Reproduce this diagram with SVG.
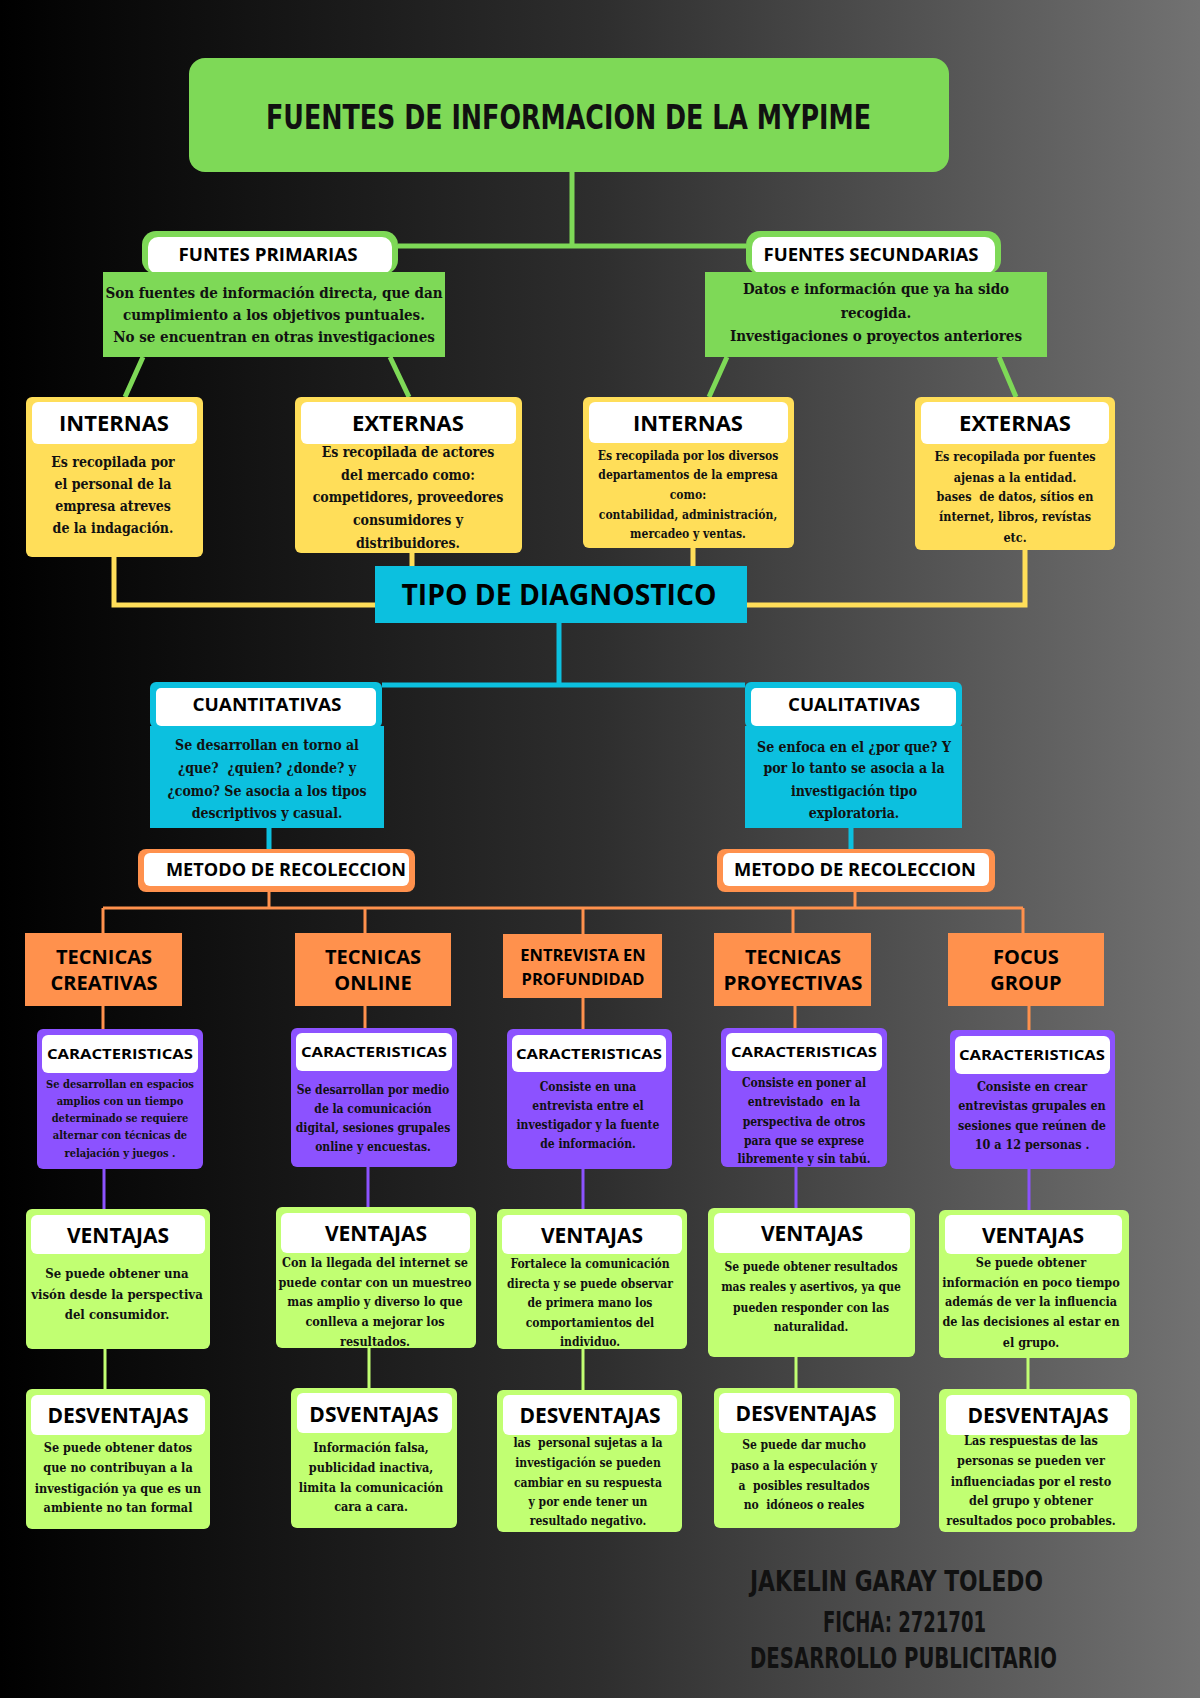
<svg xmlns="http://www.w3.org/2000/svg" width="1200" height="1698" viewBox="0 0 1200 1698">
<defs>
<linearGradient id="bg" x1="0" y1="0" x2="1" y2="0">
<stop offset="0" stop-color="#000000"/>
<stop offset="0.5" stop-color="#2e2e2e"/>
<stop offset="1" stop-color="#727272"/>
</linearGradient>
</defs>
<style>
.lbl{font-family:"Open Sans","Noto Sans",sans-serif;font-weight:700;fill:#000;text-anchor:middle}
.ttl{font-family:"DejaVu Sans Condensed","DejaVu Sans",sans-serif;font-weight:700;fill:#111}
.d{font-family:"DejaVu Serif Condensed","DejaVu Serif",serif;font-weight:700;fill:#111;text-anchor:middle;white-space:pre}
.wh{fill:#ffffff}
.gr{fill:#7ed957}.ye{fill:#ffde59}.cy{fill:#0cc0df}.or{fill:#ff914d}.pu{fill:#8c52ff}.lg{fill:#c1ff72}
</style>
<rect x="0" y="0" width="1200" height="1698" fill="url(#bg)"/>

<g id="connectors" fill="none">
<path d="M572 172 V246 M398 246 H746" stroke="#7ed957" stroke-width="5"/>
<path d="M143 357 L125 397 M390 357 L409 397 M727 357 L709 397 M999 357 L1016 397" stroke="#7ed957" stroke-width="5"/>
<path d="M114 557 V605 H375 M412 553 V566 M693 548 V566 M1025 550 V605 H747" stroke="#ffde59" stroke-width="5"/>
<path d="M559 623 V685 M382 685 H745 M269 828 V849 M851 828 V849" stroke="#0cc0df" stroke-width="5"/>
<path d="M269 892 V908 M855 892 V908 M103 908 H1023 M103 908 V933 M365 908 V933 M583 908 V934 M793 908 V933 M1023 908 V933" stroke="#ff914d" stroke-width="3"/>
<path d="M103 1006 V1029 M365 1006 V1028 M583 998 V1029 M795 1005 V1028 M1029 1006 V1030" stroke="#ff914d" stroke-width="3"/>
<path d="M104 1169 V1209 M368 1167 V1207 M583 1169 V1209 M796 1167 V1208 M1029 1169 V1210" stroke="#8c52ff" stroke-width="3"/>
<path d="M105 1349 V1389 M369 1348 V1388 M583 1349 V1390 M796 1357 V1388 M1028 1358 V1389" stroke="#c1ff72" stroke-width="3"/>
</g>

<g id="title">
<rect class="gr" x="189" y="58" width="760" height="114" rx="16"/>
<text class="ttl" x="266" y="129" font-size="33" textLength="605" lengthAdjust="spacingAndGlyphs">FUENTES DE INFORMACION DE LA MYPIME</text>
</g>

<g id="fuentes-primarias">
<rect class="gr" x="142" y="231" width="256" height="43" rx="14"/>
<rect class="wh" x="148" y="237" width="244" height="37" rx="10"/>
<rect class="gr" x="103" y="272" width="342" height="85"/>
<text class="lbl" x="268" y="261" font-size="17" textLength="179" lengthAdjust="spacingAndGlyphs">FUNTES PRIMARIAS</text>
<text class="d" font-size="15"><tspan x="274" y="298">Son fuentes de información directa, que dan</tspan><tspan x="274" y="320">cumplimiento a los objetivos puntuales.</tspan><tspan x="274" y="342">No se encuentran en otras investigaciones</tspan></text>
</g>

<g id="fuentes-secundarias">
<rect class="gr" x="746" y="231" width="255" height="43" rx="14"/>
<rect class="wh" x="752" y="237" width="243" height="37" rx="10"/>
<rect class="gr" x="705" y="272" width="342" height="85"/>
<text class="lbl" x="871" y="261" font-size="17" textLength="215" lengthAdjust="spacingAndGlyphs">FUENTES SECUNDARIAS</text>
<text class="d" font-size="15"><tspan x="876" y="294">Datos e información que ya ha sido</tspan><tspan x="876" y="318">recogida.</tspan><tspan x="876" y="341">Investigaciones o proyectos anteriores</tspan></text>
</g>

<g id="internas-1">
<rect class="ye" x="26" y="397" width="177" height="160" rx="6"/>
<rect class="wh" x="32" y="402" width="165" height="42" rx="6"/>
<text class="lbl" x="114" y="431" font-size="22">INTERNAS</text>
<text class="d" font-size="14"><tspan x="113" y="467">Es recopilada por</tspan><tspan x="113" y="489">el personal de la</tspan><tspan x="113" y="511">empresa atreves</tspan><tspan x="113" y="533">de la indagación.</tspan></text>
</g>

<g id="externas-1">
<rect class="ye" x="295" y="397" width="227" height="156" rx="6"/>
<rect class="wh" x="301" y="402" width="215" height="42" rx="6"/>
<text class="lbl" x="408" y="431" font-size="22">EXTERNAS</text>
<text class="d" font-size="14"><tspan x="408" y="457">Es recopilada de actores</tspan><tspan x="408" y="480">del mercado como:</tspan><tspan x="408" y="502">competidores, proveedores</tspan><tspan x="408" y="525">consumidores y</tspan><tspan x="408" y="548">distribuidores.</tspan></text>
</g>

<g id="internas-2">
<rect class="ye" x="583" y="397" width="211" height="151" rx="6"/>
<rect class="wh" x="589" y="402" width="199" height="41" rx="6"/>
<text class="lbl" x="688" y="431" font-size="22">INTERNAS</text>
<text class="d" font-size="12"><tspan x="688" y="460">Es recopilada por los diversos</tspan><tspan x="688" y="479">departamentos de la empresa</tspan><tspan x="688" y="499">como:</tspan><tspan x="688" y="519">contabilidad, administración,</tspan><tspan x="688" y="538">mercadeo y ventas.</tspan></text>
</g>

<g id="externas-2">
<rect class="ye" x="915" y="397" width="200" height="153" rx="6"/>
<rect class="wh" x="921" y="402" width="188" height="42" rx="6"/>
<text class="lbl" x="1015" y="431" font-size="22">EXTERNAS</text>
<text class="d" font-size="12.5"><tspan x="1015" y="461">Es recopilada por fuentes</tspan><tspan x="1015" y="482">ajenas a la entidad.</tspan><tspan x="1015" y="501">bases  de datos, sítios en</tspan><tspan x="1015" y="521">ínternet, libros, revístas</tspan><tspan x="1015" y="542">etc.</tspan></text>
</g>

<g id="tipo-diagnostico">
<rect class="cy" x="375" y="566" width="372" height="57"/>
<text class="lbl" x="559" y="605" font-size="28" textLength="315" lengthAdjust="spacingAndGlyphs">TIPO DE DIAGNOSTICO</text>
</g>

<g id="cuantitativas">
<rect class="cy" x="150" y="682" width="232" height="46" rx="6"/>
<rect class="wh" x="156" y="688" width="220" height="38" rx="5"/>
<rect class="cy" x="150" y="726" width="234" height="102"/>
<text class="lbl" x="267" y="711" font-size="17" textLength="149" lengthAdjust="spacingAndGlyphs">CUANTITATIVAS</text>
<text class="d" font-size="14"><tspan x="267" y="750">Se desarrollan en torno al</tspan><tspan x="267" y="773">¿que?  ¿quien? ¿donde? y</tspan><tspan x="267" y="796">¿como? Se asocia a los tipos</tspan><tspan x="267" y="818">descriptivos y casual.</tspan></text>
</g>

<g id="cualitativas">
<rect class="cy" x="745" y="682" width="217" height="46" rx="6"/>
<rect class="wh" x="751" y="688" width="205" height="38" rx="5"/>
<rect class="cy" x="745" y="726" width="217" height="102"/>
<text class="lbl" x="854" y="711" font-size="17" textLength="132" lengthAdjust="spacingAndGlyphs">CUALITATIVAS</text>
<text class="d" font-size="14"><tspan x="854" y="752">Se enfoca en el ¿por que? Y</tspan><tspan x="854" y="773">por lo tanto se asocia a la</tspan><tspan x="854" y="796">investigación tipo</tspan><tspan x="854" y="818">exploratoria.</tspan></text>
</g>

<g id="metodo-1">
<rect class="or" x="138" y="849" width="277" height="43" rx="8"/>
<rect class="wh" x="144" y="853" width="265" height="33" rx="6"/>
<text class="lbl" x="286" y="876" font-size="17" textLength="240" lengthAdjust="spacingAndGlyphs">METODO DE RECOLECCION</text>
</g>

<g id="metodo-2">
<rect class="or" x="717" y="849" width="278" height="43" rx="8"/>
<rect class="wh" x="723" y="853" width="266" height="33" rx="6"/>
<text class="lbl" x="855" y="876" font-size="17" textLength="242" lengthAdjust="spacingAndGlyphs">METODO DE RECOLECCION</text>
</g>

<g id="tecnicas-creativas">
<rect class="or" x="25" y="933" width="157" height="73"/>
<text class="lbl" font-size="20"><tspan x="104" y="964">TECNICAS</tspan><tspan x="104" y="990">CREATIVAS</tspan></text>
</g>
<g id="tecnicas-online">
<rect class="or" x="295" y="933" width="156" height="73"/>
<text class="lbl" font-size="20"><tspan x="373" y="964">TECNICAS</tspan><tspan x="373" y="990">ONLINE</tspan></text>
</g>
<g id="entrevista-profundidad">
<rect class="or" x="503" y="934" width="159" height="64"/>
<text class="lbl" font-size="16.5"><tspan x="583" y="961">ENTREVISTA EN</tspan><tspan x="583" y="985">PROFUNDIDAD</tspan></text>
</g>
<g id="tecnicas-proyectivas">
<rect class="or" x="714" y="933" width="157" height="73"/>
<text class="lbl" font-size="20"><tspan x="793" y="964">TECNICAS</tspan><tspan x="793" y="990" textLength="139" lengthAdjust="spacingAndGlyphs">PROYECTIVAS</tspan></text>
</g>
<g id="focus-group">
<rect class="or" x="948" y="933" width="156" height="73"/>
<text class="lbl" font-size="20"><tspan x="1026" y="964">FOCUS</tspan><tspan x="1026" y="990">GROUP</tspan></text>
</g>

<g id="caracteristicas-1">
<rect class="pu" x="37" y="1029" width="166" height="140" rx="6"/>
<rect class="wh" x="42" y="1035" width="156" height="38" rx="6"/>
<text class="lbl" x="120" y="1059" font-size="15" textLength="146" lengthAdjust="spacingAndGlyphs">CARACTERISTICAS</text>
<text class="d" font-size="11"><tspan x="120" y="1088">Se desarrollan en espacios</tspan><tspan x="120" y="1105">amplios con un tiempo</tspan><tspan x="120" y="1122">determinado se requiere</tspan><tspan x="120" y="1139">alternar con técnicas de</tspan><tspan x="120" y="1157">relajación y juegos .</tspan></text>
</g>
<g id="caracteristicas-2">
<rect class="pu" x="291" y="1028" width="166" height="139" rx="6"/>
<rect class="wh" x="296" y="1033" width="156" height="38" rx="6"/>
<text class="lbl" x="374" y="1057" font-size="15" textLength="146" lengthAdjust="spacingAndGlyphs">CARACTERISTICAS</text>
<text class="d" font-size="12"><tspan x="373" y="1094">Se desarrollan por medio</tspan><tspan x="373" y="1113">de la comunicación</tspan><tspan x="373" y="1132">digital, sesiones grupales</tspan><tspan x="373" y="1151">online y encuestas.</tspan></text>
</g>
<g id="caracteristicas-3">
<rect class="pu" x="507" y="1029" width="165" height="140" rx="6"/>
<rect class="wh" x="512" y="1035" width="154" height="37" rx="6"/>
<text class="lbl" x="589" y="1059" font-size="15" textLength="146" lengthAdjust="spacingAndGlyphs">CARACTERISTICAS</text>
<text class="d" font-size="12"><tspan x="588" y="1091">Consiste en una</tspan><tspan x="588" y="1110">entrevista entre el</tspan><tspan x="588" y="1129">investigador y la fuente</tspan><tspan x="588" y="1148">de información.</tspan></text>
</g>
<g id="caracteristicas-4">
<rect class="pu" x="721" y="1028" width="166" height="139" rx="6"/>
<rect class="wh" x="726" y="1033" width="156" height="38" rx="6"/>
<text class="lbl" x="804" y="1057" font-size="15" textLength="146" lengthAdjust="spacingAndGlyphs">CARACTERISTICAS</text>
<text class="d" font-size="12"><tspan x="804" y="1087">Consiste en poner al</tspan><tspan x="804" y="1106">entrevistado  en la</tspan><tspan x="804" y="1126">perspectiva de otros</tspan><tspan x="804" y="1145">para que se exprese</tspan><tspan x="804" y="1163">libremente y sin tabú.</tspan></text>
</g>
<g id="caracteristicas-5">
<rect class="pu" x="950" y="1030" width="165" height="139" rx="6"/>
<rect class="wh" x="955" y="1036" width="155" height="38" rx="6"/>
<text class="lbl" x="1032" y="1060" font-size="15" textLength="146" lengthAdjust="spacingAndGlyphs">CARACTERISTICAS</text>
<text class="d" font-size="12.5"><tspan x="1032" y="1091">Consiste en crear</tspan><tspan x="1032" y="1110">entrevistas grupales en</tspan><tspan x="1032" y="1130">sesiones que reúnen de</tspan><tspan x="1032" y="1149">10 a 12 personas .</tspan></text>
</g>

<g id="ventajas-1">
<rect class="lg" x="26" y="1209" width="184" height="140" rx="6"/>
<rect class="wh" x="31" y="1215" width="174" height="39" rx="6"/>
<text class="lbl" x="118" y="1243" font-size="21">VENTAJAS</text>
<text class="d" font-size="13"><tspan x="117" y="1278">Se puede obtener una</tspan><tspan x="117" y="1299">visón desde la perspectiva</tspan><tspan x="117" y="1319">del consumidor.</tspan></text>
</g>
<g id="ventajas-2">
<rect class="lg" x="276" y="1207" width="200" height="141" rx="6"/>
<rect class="wh" x="281" y="1213" width="189" height="40" rx="6"/>
<text class="lbl" x="376" y="1241" font-size="21">VENTAJAS</text>
<text class="d" font-size="12.5"><tspan x="375" y="1267">Con la llegada del internet se</tspan><tspan x="375" y="1287">puede contar con un muestreo</tspan><tspan x="375" y="1306">mas amplio y diverso lo que</tspan><tspan x="375" y="1326">conlleva a mejorar los</tspan><tspan x="375" y="1346">resultados.</tspan></text>
</g>
<g id="ventajas-3">
<rect class="lg" x="497" y="1209" width="190" height="140" rx="6"/>
<rect class="wh" x="502" y="1215" width="180" height="39" rx="6"/>
<text class="lbl" x="592" y="1243" font-size="21">VENTAJAS</text>
<text class="d" font-size="12"><tspan x="590" y="1268">Fortalece la comunicación</tspan><tspan x="590" y="1288">directa y se puede observar</tspan><tspan x="590" y="1307">de primera mano los</tspan><tspan x="590" y="1327">comportamientos del</tspan><tspan x="590" y="1346">individuo.</tspan></text>
</g>
<g id="ventajas-4">
<rect class="lg" x="708" y="1208" width="207" height="149" rx="6"/>
<rect class="wh" x="714" y="1213" width="196" height="40" rx="6"/>
<text class="lbl" x="812" y="1241" font-size="21">VENTAJAS</text>
<text class="d" font-size="12"><tspan x="811" y="1271">Se puede obtener resultados</tspan><tspan x="811" y="1291">mas reales y asertivos, ya que</tspan><tspan x="811" y="1312">pueden responder con las</tspan><tspan x="811" y="1331">naturalidad.</tspan></text>
</g>
<g id="ventajas-5">
<rect class="lg" x="939" y="1210" width="190" height="148" rx="6"/>
<rect class="wh" x="945" y="1215" width="177" height="39" rx="6"/>
<text class="lbl" x="1033" y="1243" font-size="21">VENTAJAS</text>
<text class="d" font-size="12.5"><tspan x="1031" y="1267">Se puede obtener</tspan><tspan x="1031" y="1287">información en poco tiempo</tspan><tspan x="1031" y="1306">además de ver la influencia</tspan><tspan x="1031" y="1326">de las decisiones al estar en</tspan><tspan x="1031" y="1347">el grupo.</tspan></text>
</g>

<g id="desventajas-1">
<rect class="lg" x="26" y="1389" width="184" height="140" rx="6"/>
<rect class="wh" x="31" y="1395" width="174" height="40" rx="6"/>
<text class="lbl" x="118" y="1423" font-size="21">DESVENTAJAS</text>
<text class="d" font-size="12.5"><tspan x="118" y="1452">Se puede obtener datos</tspan><tspan x="118" y="1472">que no contribuyan a la</tspan><tspan x="118" y="1493">investigación ya que es un</tspan><tspan x="118" y="1512">ambiente no tan formal</tspan></text>
</g>
<g id="desventajas-2">
<rect class="lg" x="291" y="1388" width="166" height="140" rx="6"/>
<rect class="wh" x="297" y="1393" width="155" height="40" rx="6"/>
<text class="lbl" x="374" y="1422" font-size="21">DSVENTAJAS</text>
<text class="d" font-size="12.5"><tspan x="371" y="1452">Información falsa,</tspan><tspan x="371" y="1472">publicidad inactiva,</tspan><tspan x="371" y="1492">limita la comunicación</tspan><tspan x="371" y="1511">cara a cara.</tspan></text>
</g>
<g id="desventajas-3">
<rect class="lg" x="497" y="1390" width="185" height="142" rx="6"/>
<rect class="wh" x="503" y="1395" width="174" height="40" rx="6"/>
<text class="lbl" x="590" y="1423" font-size="21">DESVENTAJAS</text>
<text class="d" font-size="12"><tspan x="588" y="1447">las  personal sujetas a la</tspan><tspan x="588" y="1467">investigación se pueden</tspan><tspan x="588" y="1487">cambiar en su respuesta</tspan><tspan x="588" y="1506">y por ende tener un</tspan><tspan x="588" y="1525">resultado negativo.</tspan></text>
</g>
<g id="desventajas-4">
<rect class="lg" x="714" y="1388" width="186" height="140" rx="6"/>
<rect class="wh" x="719" y="1393" width="175" height="40" rx="6"/>
<text class="lbl" x="806" y="1421" font-size="21">DESVENTAJAS</text>
<text class="d" font-size="12"><tspan x="804" y="1449">Se puede dar mucho</tspan><tspan x="804" y="1470">paso a la especulación y</tspan><tspan x="804" y="1490">a  posibles resultados</tspan><tspan x="804" y="1509">no  idóneos o reales</tspan></text>
</g>
<g id="desventajas-5">
<rect class="lg" x="939" y="1389" width="198" height="143" rx="6"/>
<rect class="wh" x="946" y="1395" width="184" height="40" rx="6"/>
<text class="lbl" x="1038" y="1423" font-size="21">DESVENTAJAS</text>
<text class="d" font-size="12.5"><tspan x="1031" y="1445">Las respuestas de las</tspan><tspan x="1031" y="1465">personas se pueden ver</tspan><tspan x="1031" y="1486">influenciadas por el resto</tspan><tspan x="1031" y="1505">del grupo y obtener</tspan><tspan x="1031" y="1525">resultados poco probables.</tspan></text>
</g>

<g id="autor">
<text class="ttl" x="750" y="1591" font-size="28" textLength="293" lengthAdjust="spacingAndGlyphs">JAKELIN GARAY TOLEDO</text>
<text class="ttl" x="823" y="1632" font-size="28" textLength="163" lengthAdjust="spacingAndGlyphs">FICHA: 2721701</text>
<text class="ttl" x="750" y="1668" font-size="28" textLength="307" lengthAdjust="spacingAndGlyphs">DESARROLLO PUBLICITARIO</text>
</g>
</svg>
